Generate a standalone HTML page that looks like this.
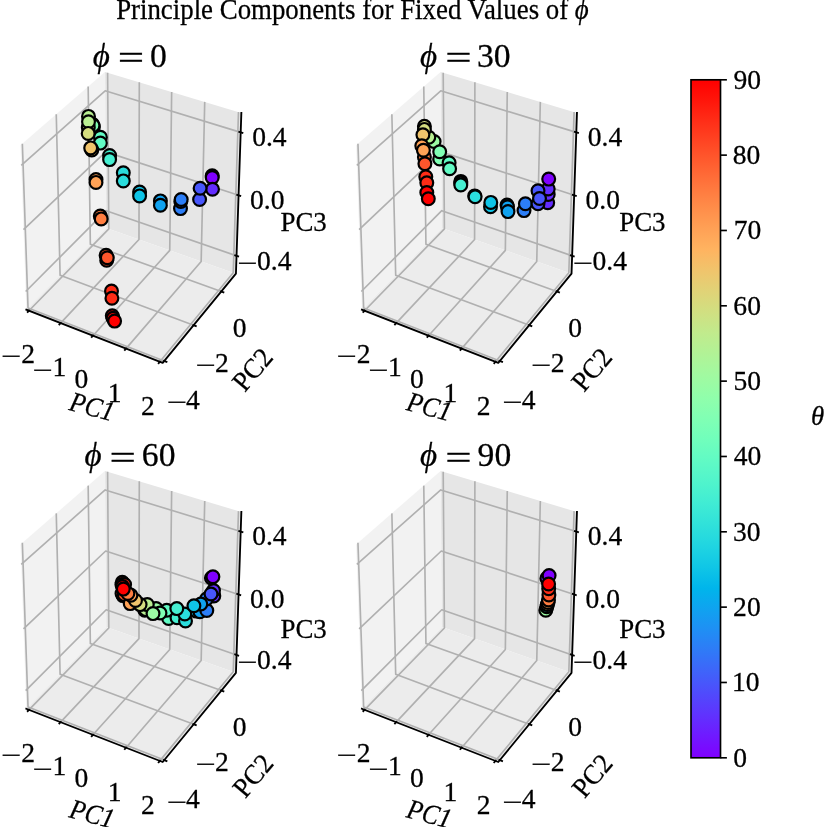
<!DOCTYPE html>
<html><head><meta charset="utf-8"><title>Principle Components</title>
<style>html,body{margin:0;padding:0;background:#fff}svg{display:block}text{font-family:"Liberation Serif",serif;fill:#000;stroke:#000;stroke-width:0.28px}</style></head><body>
<svg width="825" height="827" viewBox="0 0 825 827">
<rect width="825" height="827" fill="#fff"/>
<text transform="translate(116.90,18.50) scale(0.9135,1.0000)" x="-0.85" font-size="29.40">Principle Components for Fixed Values of <tspan font-style="italic">ϕ</tspan></text>
<g>
<polygon points="26.32,309.71 106.33,228.01 104.99,71.91 20.53,145.31" fill="#f2f2f2"/>
<polygon points="106.33,228.01 235.93,273.69 241.35,112.88 104.99,71.91" fill="#e6e6e6"/>
<polygon points="26.32,309.71 162.68,362.90 235.93,273.69 106.33,228.01" fill="#ececec"/>
<g fill="none" stroke="#b0b0b0" stroke-width="1.65" stroke-linejoin="round">
<polyline points="28.93,310.73 108.81,228.89 107.60,72.69"/>
<polyline points="60.59,323.08 138.98,239.52 139.29,82.21"/>
<polyline points="92.94,335.70 169.75,250.37 171.65,91.94"/>
<polyline points="126.01,348.60 201.16,261.44 204.72,101.87"/>
<polyline points="159.83,361.79 233.22,272.73 238.50,112.02"/>
<polyline points="164.26,360.98 28.04,307.95 22.35,143.73"/>
<polyline points="193.65,325.17 60.09,275.23 56.26,114.26"/>
<polyline points="221.33,291.47 90.34,244.34 88.17,86.53"/>
<polyline points="236.53,255.86 106.18,210.68 25.68,291.51"/>
<polyline points="238.57,195.34 105.68,151.88 23.50,229.69"/>
<polyline points="240.69,132.39 105.16,90.82 21.23,165.29"/>
</g>
<g fill="none" stroke="#000" stroke-width="1.85" stroke-linecap="butt" stroke-linejoin="round">
<polyline stroke-linecap="square" points="26.32,309.71 162.68,362.90 235.93,273.69 241.35,112.88"/>
<polyline points="27.07,312.63 29.62,310.02"/>
<polyline points="58.76,325.03 61.26,322.36"/>
<polyline points="91.15,337.69 93.60,334.96"/>
<polyline points="124.26,350.63 126.66,347.85"/>
<polyline points="158.11,363.87 160.46,361.02"/>
<polyline points="167.34,362.18 163.12,360.53"/>
<polyline points="196.67,326.30 192.54,324.76"/>
<polyline points="224.29,292.53 220.24,291.07"/>
<polyline points="239.03,256.73 234.35,255.11"/>
<polyline points="241.12,196.18 236.35,194.62"/>
<polyline points="243.30,133.19 238.42,131.70"/>
</g>
<text transform="translate(2.90,364.32) scale(1.2741,0.8500)" x="-1.39" font-size="28.00">−</text>
<text transform="translate(22.40,362.80) scale(0.9850,1.0000)" x="-1.23" font-size="28.00">2</text>
<text transform="translate(34.60,377.52) scale(1.2741,0.8500)" x="-1.39" font-size="28.00">−</text>
<text transform="translate(54.80,376.00) scale(0.9850,1.0000)" x="-2.46" font-size="28.00">1</text>
<text transform="translate(75.50,388.30) scale(0.9850,1.0000)" x="-1.07" font-size="28.00">0</text>
<text transform="translate(110.20,401.60) scale(0.9850,1.0000)" x="-2.46" font-size="28.00">1</text>
<text transform="translate(142.30,414.70) scale(0.9850,1.0000)" x="-1.23" font-size="28.00">2</text>
<text transform="translate(233.80,336.90) scale(0.9850,1.0000)" x="-1.07" font-size="28.00">0</text>
<text transform="translate(197.50,373.32) scale(1.2741,0.8500)" x="-1.39" font-size="28.00">−</text>
<text transform="translate(216.30,371.80) scale(0.9850,1.0000)" x="-1.23" font-size="28.00">2</text>
<text transform="translate(168.70,410.42) scale(1.2741,0.8500)" x="-1.39" font-size="28.00">−</text>
<text transform="translate(186.60,408.90) scale(0.9850,1.0000)" x="-0.55" font-size="28.00">4</text>
<text transform="translate(253.20,146.00) scale(0.9850,1.0000)" x="-1.07" font-size="28.00">0.4</text>
<text transform="translate(251.00,208.70) scale(0.9850,1.0000)" x="-1.07" font-size="28.00">0.0</text>
<text transform="translate(239.20,271.12) scale(1.2741,0.8500)" x="-1.39" font-size="28.00">−</text>
<text transform="translate(258.00,269.60) scale(0.9850,1.0000)" x="-1.07" font-size="28.00">0.4</text>
<text transform="translate(89.70,415.50) rotate(15) scale(0.9000,1.0000)" x="0.00" font-size="28.00" font-style="italic" text-anchor="middle">PC1</text>
<text transform="translate(259.50,375.50) rotate(-50) scale(0.9500,1.0000)" x="0.00" font-size="28.00" text-anchor="middle">PC2</text>
<text transform="translate(281.20,230.60) scale(0.9600,1.0000)" x="-0.81" font-size="28.00">PC3</text>
<g stroke="#000" stroke-width="2.2">
<circle cx="212.20" cy="175.70" r="6.4" fill="#8000ff"/>
<circle cx="212.20" cy="177.60" r="6.4" fill="#8000ff"/>
<circle cx="212.50" cy="189.30" r="6.4" fill="#642cfe"/>
<circle cx="199.60" cy="199.50" r="6.4" fill="#4856fb"/>
<circle cx="200.10" cy="188.30" r="6.4" fill="#4856fb"/>
<circle cx="180.50" cy="208.60" r="6.4" fill="#2c7ef7"/>
<circle cx="180.80" cy="201.40" r="6.4" fill="#2c7ef7"/>
<circle cx="181.20" cy="199.50" r="6.4" fill="#2c7ef7"/>
<circle cx="160.40" cy="200.90" r="6.4" fill="#10a2f0"/>
<circle cx="160.40" cy="205.30" r="6.4" fill="#10a2f0"/>
<circle cx="139.60" cy="192.00" r="6.4" fill="#0fc4e7"/>
<circle cx="139.60" cy="195.90" r="6.4" fill="#0fc4e7"/>
<circle cx="123.30" cy="172.70" r="6.4" fill="#2adddd"/>
<circle cx="123.30" cy="180.90" r="6.4" fill="#2adddd"/>
<circle cx="109.60" cy="155.60" r="6.4" fill="#46efd1"/>
<circle cx="109.60" cy="159.60" r="6.4" fill="#46efd1"/>
<circle cx="93.40" cy="126.90" r="6.4" fill="#80ffb4"/>
<circle cx="92.50" cy="124.20" r="6.4" fill="#9cfba4"/>
<circle cx="93.00" cy="125.60" r="6.4" fill="#80ffb4"/>
<circle cx="88.30" cy="127.60" r="6.4" fill="#d4dd80"/>
<circle cx="100.40" cy="137.30" r="6.4" fill="#62fbc4"/>
<circle cx="100.40" cy="143.10" r="6.4" fill="#62fbc4"/>
<circle cx="88.50" cy="116.40" r="6.4" fill="#b9ef92"/>
<circle cx="88.50" cy="121.80" r="6.4" fill="#b9ef92"/>
<circle cx="88.20" cy="133.40" r="6.4" fill="#d4dd80"/>
<circle cx="91.80" cy="149.90" r="6.4" fill="#f0c46c"/>
<circle cx="90.70" cy="147.90" r="6.4" fill="#f0c46c"/>
<circle cx="96.00" cy="179.50" r="6.4" fill="#ffa256"/>
<circle cx="96.00" cy="182.40" r="6.4" fill="#ffa256"/>
<circle cx="100.30" cy="216.00" r="6.4" fill="#ff7e41"/>
<circle cx="101.20" cy="218.90" r="6.4" fill="#ff7e41"/>
<circle cx="106.10" cy="255.30" r="6.4" fill="#ff562c"/>
<circle cx="106.70" cy="260.30" r="6.4" fill="#ff562c"/>
<circle cx="107.30" cy="257.70" r="6.4" fill="#ff562c"/>
<circle cx="111.50" cy="291.00" r="6.4" fill="#ff2c16"/>
<circle cx="111.90" cy="298.30" r="6.4" fill="#ff2c16"/>
<circle cx="112.30" cy="315.80" r="6.4" fill="#ff0000"/>
<circle cx="113.10" cy="318.20" r="6.4" fill="#ff0000"/>
<circle cx="114.60" cy="321.10" r="6.4" fill="#ff0000"/>
</g>
<text transform="translate(93.50,66.60)" x="-0.76" font-size="33.00" font-style="italic">ϕ</text>
<text transform="translate(120.10,69.49) scale(1.3779,1.0000)" x="-1.69" font-size="34.00">=</text>
<text transform="translate(151.20,66.60) scale(0.9900,1.0000)" x="-1.29" font-size="34.00">0</text>
</g>
<g>
<polygon points="361.92,309.71 441.93,228.01 440.59,71.91 356.13,145.31" fill="#f2f2f2"/>
<polygon points="441.93,228.01 571.53,273.69 576.95,112.88 440.59,71.91" fill="#e6e6e6"/>
<polygon points="361.92,309.71 498.28,362.90 571.53,273.69 441.93,228.01" fill="#ececec"/>
<g fill="none" stroke="#b0b0b0" stroke-width="1.65" stroke-linejoin="round">
<polyline points="364.53,310.73 444.41,228.89 443.20,72.69"/>
<polyline points="396.19,323.08 474.58,239.52 474.89,82.21"/>
<polyline points="428.54,335.70 505.35,250.37 507.25,91.94"/>
<polyline points="461.61,348.60 536.76,261.44 540.32,101.87"/>
<polyline points="495.43,361.79 568.82,272.73 574.10,112.02"/>
<polyline points="499.86,360.98 363.64,307.95 357.95,143.73"/>
<polyline points="529.25,325.17 395.69,275.23 391.86,114.26"/>
<polyline points="556.93,291.47 425.94,244.34 423.77,86.53"/>
<polyline points="572.13,255.86 441.78,210.68 361.28,291.51"/>
<polyline points="574.17,195.34 441.28,151.88 359.10,229.69"/>
<polyline points="576.29,132.39 440.76,90.82 356.83,165.29"/>
</g>
<g fill="none" stroke="#000" stroke-width="1.85" stroke-linecap="butt" stroke-linejoin="round">
<polyline stroke-linecap="square" points="361.92,309.71 498.28,362.90 571.53,273.69 576.95,112.88"/>
<polyline points="362.67,312.63 365.22,310.02"/>
<polyline points="394.36,325.03 396.86,322.36"/>
<polyline points="426.75,337.69 429.20,334.96"/>
<polyline points="459.86,350.63 462.26,347.85"/>
<polyline points="493.71,363.87 496.06,361.02"/>
<polyline points="502.94,362.18 498.72,360.53"/>
<polyline points="532.27,326.30 528.14,324.76"/>
<polyline points="559.89,292.53 555.84,291.07"/>
<polyline points="574.63,256.73 569.95,255.11"/>
<polyline points="576.72,196.18 571.95,194.62"/>
<polyline points="578.90,133.19 574.02,131.70"/>
</g>
<text transform="translate(338.50,364.32) scale(1.2741,0.8500)" x="-1.39" font-size="28.00">−</text>
<text transform="translate(358.00,362.80) scale(0.9850,1.0000)" x="-1.23" font-size="28.00">2</text>
<text transform="translate(370.20,377.52) scale(1.2741,0.8500)" x="-1.39" font-size="28.00">−</text>
<text transform="translate(390.40,376.00) scale(0.9850,1.0000)" x="-2.46" font-size="28.00">1</text>
<text transform="translate(411.10,388.30) scale(0.9850,1.0000)" x="-1.07" font-size="28.00">0</text>
<text transform="translate(445.80,401.60) scale(0.9850,1.0000)" x="-2.46" font-size="28.00">1</text>
<text transform="translate(477.90,414.70) scale(0.9850,1.0000)" x="-1.23" font-size="28.00">2</text>
<text transform="translate(569.40,336.90) scale(0.9850,1.0000)" x="-1.07" font-size="28.00">0</text>
<text transform="translate(533.10,373.32) scale(1.2741,0.8500)" x="-1.39" font-size="28.00">−</text>
<text transform="translate(551.90,371.80) scale(0.9850,1.0000)" x="-1.23" font-size="28.00">2</text>
<text transform="translate(504.30,410.42) scale(1.2741,0.8500)" x="-1.39" font-size="28.00">−</text>
<text transform="translate(522.20,408.90) scale(0.9850,1.0000)" x="-0.55" font-size="28.00">4</text>
<text transform="translate(588.80,146.00) scale(0.9850,1.0000)" x="-1.07" font-size="28.00">0.4</text>
<text transform="translate(586.60,208.70) scale(0.9850,1.0000)" x="-1.07" font-size="28.00">0.0</text>
<text transform="translate(574.80,271.12) scale(1.2741,0.8500)" x="-1.39" font-size="28.00">−</text>
<text transform="translate(593.60,269.60) scale(0.9850,1.0000)" x="-1.07" font-size="28.00">0.4</text>
<text transform="translate(427.00,415.50) rotate(15) scale(0.9000,1.0000)" x="0.00" font-size="28.00" font-style="italic" text-anchor="middle">PC1</text>
<text transform="translate(598.80,375.50) rotate(-50) scale(0.9500,1.0000)" x="0.00" font-size="28.00" text-anchor="middle">PC2</text>
<text transform="translate(620.00,230.60) scale(0.9600,1.0000)" x="-0.81" font-size="28.00">PC3</text>
<g stroke="#000" stroke-width="2.2">
<circle cx="434.10" cy="141.50" r="6.4" fill="#9cfba4"/>
<circle cx="428.80" cy="137.20" r="6.4" fill="#b9ef92"/>
<circle cx="424.40" cy="126.30" r="6.4" fill="#d4dd80"/>
<circle cx="424.40" cy="129.40" r="6.4" fill="#d4dd80"/>
<circle cx="422.90" cy="134.70" r="6.4" fill="#f0c46c"/>
<circle cx="439.70" cy="159.00" r="6.4" fill="#80ffb4"/>
<circle cx="439.70" cy="151.70" r="6.4" fill="#80ffb4"/>
<circle cx="449.10" cy="162.80" r="6.4" fill="#62fbc4"/>
<circle cx="449.60" cy="168.70" r="6.4" fill="#62fbc4"/>
<circle cx="460.80" cy="181.40" r="6.4" fill="#46efd1"/>
<circle cx="460.80" cy="183.00" r="6.4" fill="#46efd1"/>
<circle cx="460.80" cy="184.90" r="6.4" fill="#46efd1"/>
<circle cx="474.70" cy="195.90" r="6.4" fill="#2adddd"/>
<circle cx="475.10" cy="196.80" r="6.4" fill="#2adddd"/>
<circle cx="490.50" cy="206.70" r="6.4" fill="#0fc4e7"/>
<circle cx="490.80" cy="202.40" r="6.4" fill="#0fc4e7"/>
<circle cx="507.00" cy="205.00" r="6.4" fill="#10a2f0"/>
<circle cx="507.50" cy="206.70" r="6.4" fill="#10a2f0"/>
<circle cx="508.00" cy="211.60" r="6.4" fill="#10a2f0"/>
<circle cx="524.00" cy="210.60" r="6.4" fill="#2c7ef7"/>
<circle cx="525.40" cy="203.80" r="6.4" fill="#2c7ef7"/>
<circle cx="547.70" cy="202.80" r="6.4" fill="#642cfe"/>
<circle cx="548.20" cy="194.50" r="6.4" fill="#642cfe"/>
<circle cx="548.20" cy="189.00" r="6.4" fill="#642cfe"/>
<circle cx="548.70" cy="179.10" r="6.4" fill="#8000ff"/>
<circle cx="538.00" cy="190.70" r="6.4" fill="#4856fb"/>
<circle cx="538.00" cy="203.80" r="6.4" fill="#4856fb"/>
<circle cx="539.50" cy="198.50" r="6.4" fill="#4856fb"/>
<circle cx="424.40" cy="157.00" r="6.4" fill="#ff7e41"/>
<circle cx="421.80" cy="145.80" r="6.4" fill="#ffa256"/>
<circle cx="423.40" cy="150.20" r="6.4" fill="#ffa256"/>
<circle cx="424.90" cy="163.80" r="6.4" fill="#ff562c"/>
<circle cx="425.80" cy="176.70" r="6.4" fill="#ff2c16"/>
<circle cx="426.80" cy="182.70" r="6.4" fill="#ff2c16"/>
<circle cx="426.80" cy="192.50" r="6.4" fill="#ff0000"/>
<circle cx="428.30" cy="198.80" r="6.4" fill="#ff0000"/>
</g>
<text transform="translate(420.85,66.60)" x="-0.76" font-size="33.00" font-style="italic">ϕ</text>
<text transform="translate(447.45,69.49) scale(1.3779,1.0000)" x="-1.69" font-size="34.00">=</text>
<text transform="translate(478.55,66.60) scale(0.9900,1.0000)" x="-1.63" font-size="34.00">30</text>
</g>
<g>
<polygon points="26.32,708.81 106.33,627.11 104.99,471.01 20.53,544.41" fill="#f2f2f2"/>
<polygon points="106.33,627.11 235.93,672.79 241.35,511.98 104.99,471.01" fill="#e6e6e6"/>
<polygon points="26.32,708.81 162.68,762.00 235.93,672.79 106.33,627.11" fill="#ececec"/>
<g fill="none" stroke="#b0b0b0" stroke-width="1.65" stroke-linejoin="round">
<polyline points="28.93,709.83 108.81,627.99 107.60,471.79"/>
<polyline points="60.59,722.18 138.98,638.62 139.29,481.31"/>
<polyline points="92.94,734.80 169.75,649.47 171.65,491.04"/>
<polyline points="126.01,747.70 201.16,660.54 204.72,500.97"/>
<polyline points="159.83,760.89 233.22,671.83 238.50,511.12"/>
<polyline points="164.26,760.08 28.04,707.05 22.35,542.83"/>
<polyline points="193.65,724.27 60.09,674.33 56.26,513.36"/>
<polyline points="221.33,690.57 90.34,643.44 88.17,485.63"/>
<polyline points="236.53,654.96 106.18,609.78 25.68,690.61"/>
<polyline points="238.57,594.44 105.68,550.98 23.50,628.79"/>
<polyline points="240.69,531.49 105.16,489.92 21.23,564.39"/>
</g>
<g fill="none" stroke="#000" stroke-width="1.85" stroke-linecap="butt" stroke-linejoin="round">
<polyline stroke-linecap="square" points="26.32,708.81 162.68,762.00 235.93,672.79 241.35,511.98"/>
<polyline points="27.07,711.73 29.62,709.12"/>
<polyline points="58.76,724.13 61.26,721.46"/>
<polyline points="91.15,736.79 93.60,734.06"/>
<polyline points="124.26,749.73 126.66,746.95"/>
<polyline points="158.11,762.97 160.46,760.12"/>
<polyline points="167.34,761.28 163.12,759.63"/>
<polyline points="196.67,725.40 192.54,723.86"/>
<polyline points="224.29,691.63 220.24,690.17"/>
<polyline points="239.03,655.83 234.35,654.21"/>
<polyline points="241.12,595.28 236.35,593.72"/>
<polyline points="243.30,532.29 238.42,530.80"/>
</g>
<text transform="translate(2.90,763.42) scale(1.2741,0.8500)" x="-1.39" font-size="28.00">−</text>
<text transform="translate(22.40,761.90) scale(0.9850,1.0000)" x="-1.23" font-size="28.00">2</text>
<text transform="translate(34.60,776.62) scale(1.2741,0.8500)" x="-1.39" font-size="28.00">−</text>
<text transform="translate(54.80,775.10) scale(0.9850,1.0000)" x="-2.46" font-size="28.00">1</text>
<text transform="translate(75.50,787.40) scale(0.9850,1.0000)" x="-1.07" font-size="28.00">0</text>
<text transform="translate(110.20,800.70) scale(0.9850,1.0000)" x="-2.46" font-size="28.00">1</text>
<text transform="translate(142.30,813.80) scale(0.9850,1.0000)" x="-1.23" font-size="28.00">2</text>
<text transform="translate(233.80,736.00) scale(0.9850,1.0000)" x="-1.07" font-size="28.00">0</text>
<text transform="translate(197.50,772.42) scale(1.2741,0.8500)" x="-1.39" font-size="28.00">−</text>
<text transform="translate(216.30,770.90) scale(0.9850,1.0000)" x="-1.23" font-size="28.00">2</text>
<text transform="translate(168.70,809.52) scale(1.2741,0.8500)" x="-1.39" font-size="28.00">−</text>
<text transform="translate(186.60,808.00) scale(0.9850,1.0000)" x="-0.55" font-size="28.00">4</text>
<text transform="translate(253.20,545.10) scale(0.9850,1.0000)" x="-1.07" font-size="28.00">0.4</text>
<text transform="translate(251.00,607.80) scale(0.9850,1.0000)" x="-1.07" font-size="28.00">0.0</text>
<text transform="translate(239.20,670.22) scale(1.2741,0.8500)" x="-1.39" font-size="28.00">−</text>
<text transform="translate(258.00,668.70) scale(0.9850,1.0000)" x="-1.07" font-size="28.00">0.4</text>
<text transform="translate(89.70,822.70) rotate(15) scale(0.9000,1.0000)" x="0.00" font-size="28.00" font-style="italic" text-anchor="middle">PC1</text>
<text transform="translate(260.00,781.60) rotate(-50) scale(0.9500,1.0000)" x="0.00" font-size="28.00" text-anchor="middle">PC2</text>
<text transform="translate(281.20,637.70) scale(0.9600,1.0000)" x="-0.81" font-size="28.00">PC3</text>
<g stroke="#000" stroke-width="2.2">
<circle cx="123.00" cy="595.60" r="6.4" fill="#ff7e41"/>
<circle cx="122.00" cy="593.60" r="6.4" fill="#ff562c"/>
<circle cx="124.20" cy="594.60" r="6.4" fill="#ff562c"/>
<circle cx="130.20" cy="603.60" r="6.4" fill="#ffa256"/>
<circle cx="144.80" cy="610.30" r="6.4" fill="#d4dd80"/>
<circle cx="145.80" cy="609.60" r="6.4" fill="#b9ef92"/>
<circle cx="168.60" cy="618.50" r="6.4" fill="#62fbc4"/>
<circle cx="177.00" cy="617.80" r="6.4" fill="#46efd1"/>
<circle cx="185.50" cy="621.00" r="6.4" fill="#2adddd"/>
<circle cx="196.30" cy="611.10" r="6.4" fill="#0fc4e7"/>
<circle cx="199.90" cy="611.80" r="6.4" fill="#10a2f0"/>
<circle cx="206.80" cy="610.50" r="6.4" fill="#2c7ef7"/>
<circle cx="213.80" cy="595.90" r="6.4" fill="#642cfe"/>
<circle cx="156.10" cy="608.50" r="6.4" fill="#9cfba4"/>
<circle cx="147.30" cy="604.60" r="6.4" fill="#b9ef92"/>
<circle cx="140.10" cy="604.60" r="6.4" fill="#d4dd80"/>
<circle cx="135.50" cy="600.50" r="6.4" fill="#f0c46c"/>
<circle cx="130.90" cy="595.30" r="6.4" fill="#ffa256"/>
<circle cx="127.90" cy="593.50" r="6.4" fill="#ff7e41"/>
<circle cx="122.30" cy="582.30" r="6.4" fill="#ff2c16"/>
<circle cx="121.90" cy="584.50" r="6.4" fill="#ff2c16"/>
<circle cx="124.60" cy="584.50" r="6.4" fill="#ff2c16"/>
<circle cx="122.50" cy="586.50" r="6.4" fill="#ff0000"/>
<circle cx="123.30" cy="589.10" r="6.4" fill="#ff0000"/>
<circle cx="184.80" cy="614.00" r="6.4" fill="#2adddd"/>
<circle cx="166.70" cy="610.30" r="6.4" fill="#62fbc4"/>
<circle cx="176.80" cy="608.60" r="6.4" fill="#46efd1"/>
<circle cx="160.00" cy="613.00" r="6.4" fill="#80ffb4"/>
<circle cx="153.00" cy="613.60" r="6.4" fill="#9cfba4"/>
<circle cx="206.50" cy="599.00" r="6.4" fill="#2c7ef7"/>
<circle cx="200.80" cy="604.00" r="6.4" fill="#10a2f0"/>
<circle cx="193.90" cy="605.70" r="6.4" fill="#0fc4e7"/>
<circle cx="213.50" cy="590.50" r="6.4" fill="#642cfe"/>
<circle cx="211.40" cy="578.00" r="6.4" fill="#8000ff"/>
<circle cx="212.90" cy="576.80" r="6.4" fill="#8000ff"/>
<circle cx="211.00" cy="594.00" r="6.4" fill="#4856fb"/>
</g>
<text transform="translate(85.25,465.70)" x="-0.76" font-size="33.00" font-style="italic">ϕ</text>
<text transform="translate(111.85,468.59) scale(1.3779,1.0000)" x="-1.69" font-size="34.00">=</text>
<text transform="translate(142.95,465.70) scale(0.9900,1.0000)" x="-1.16" font-size="34.00">60</text>
</g>
<g>
<polygon points="361.92,708.81 441.93,627.11 440.59,471.01 356.13,544.41" fill="#f2f2f2"/>
<polygon points="441.93,627.11 571.53,672.79 576.95,511.98 440.59,471.01" fill="#e6e6e6"/>
<polygon points="361.92,708.81 498.28,762.00 571.53,672.79 441.93,627.11" fill="#ececec"/>
<g fill="none" stroke="#b0b0b0" stroke-width="1.65" stroke-linejoin="round">
<polyline points="364.53,709.83 444.41,627.99 443.20,471.79"/>
<polyline points="396.19,722.18 474.58,638.62 474.89,481.31"/>
<polyline points="428.54,734.80 505.35,649.47 507.25,491.04"/>
<polyline points="461.61,747.70 536.76,660.54 540.32,500.97"/>
<polyline points="495.43,760.89 568.82,671.83 574.10,511.12"/>
<polyline points="499.86,760.08 363.64,707.05 357.95,542.83"/>
<polyline points="529.25,724.27 395.69,674.33 391.86,513.36"/>
<polyline points="556.93,690.57 425.94,643.44 423.77,485.63"/>
<polyline points="572.13,654.96 441.78,609.78 361.28,690.61"/>
<polyline points="574.17,594.44 441.28,550.98 359.10,628.79"/>
<polyline points="576.29,531.49 440.76,489.92 356.83,564.39"/>
</g>
<g fill="none" stroke="#000" stroke-width="1.85" stroke-linecap="butt" stroke-linejoin="round">
<polyline stroke-linecap="square" points="361.92,708.81 498.28,762.00 571.53,672.79 576.95,511.98"/>
<polyline points="362.67,711.73 365.22,709.12"/>
<polyline points="394.36,724.13 396.86,721.46"/>
<polyline points="426.75,736.79 429.20,734.06"/>
<polyline points="459.86,749.73 462.26,746.95"/>
<polyline points="493.71,762.97 496.06,760.12"/>
<polyline points="502.94,761.28 498.72,759.63"/>
<polyline points="532.27,725.40 528.14,723.86"/>
<polyline points="559.89,691.63 555.84,690.17"/>
<polyline points="574.63,655.83 569.95,654.21"/>
<polyline points="576.72,595.28 571.95,593.72"/>
<polyline points="578.90,532.29 574.02,530.80"/>
</g>
<text transform="translate(338.50,763.42) scale(1.2741,0.8500)" x="-1.39" font-size="28.00">−</text>
<text transform="translate(358.00,761.90) scale(0.9850,1.0000)" x="-1.23" font-size="28.00">2</text>
<text transform="translate(370.20,776.62) scale(1.2741,0.8500)" x="-1.39" font-size="28.00">−</text>
<text transform="translate(390.40,775.10) scale(0.9850,1.0000)" x="-2.46" font-size="28.00">1</text>
<text transform="translate(411.10,787.40) scale(0.9850,1.0000)" x="-1.07" font-size="28.00">0</text>
<text transform="translate(445.80,800.70) scale(0.9850,1.0000)" x="-2.46" font-size="28.00">1</text>
<text transform="translate(477.90,813.80) scale(0.9850,1.0000)" x="-1.23" font-size="28.00">2</text>
<text transform="translate(569.40,736.00) scale(0.9850,1.0000)" x="-1.07" font-size="28.00">0</text>
<text transform="translate(533.10,772.42) scale(1.2741,0.8500)" x="-1.39" font-size="28.00">−</text>
<text transform="translate(551.90,770.90) scale(0.9850,1.0000)" x="-1.23" font-size="28.00">2</text>
<text transform="translate(504.30,809.52) scale(1.2741,0.8500)" x="-1.39" font-size="28.00">−</text>
<text transform="translate(522.20,808.00) scale(0.9850,1.0000)" x="-0.55" font-size="28.00">4</text>
<text transform="translate(588.80,545.10) scale(0.9850,1.0000)" x="-1.07" font-size="28.00">0.4</text>
<text transform="translate(586.60,607.80) scale(0.9850,1.0000)" x="-1.07" font-size="28.00">0.0</text>
<text transform="translate(574.80,670.22) scale(1.2741,0.8500)" x="-1.39" font-size="28.00">−</text>
<text transform="translate(593.60,668.70) scale(0.9850,1.0000)" x="-1.07" font-size="28.00">0.4</text>
<text transform="translate(427.00,822.70) rotate(15) scale(0.9000,1.0000)" x="0.00" font-size="28.00" font-style="italic" text-anchor="middle">PC1</text>
<text transform="translate(599.30,781.60) rotate(-50) scale(0.9500,1.0000)" x="0.00" font-size="28.00" text-anchor="middle">PC2</text>
<text transform="translate(620.00,637.70) scale(0.9600,1.0000)" x="-0.81" font-size="28.00">PC3</text>
<g stroke="#000" stroke-width="2.2">
<circle cx="545.80" cy="610.20" r="6.4" fill="#9cfba4"/>
<circle cx="546.80" cy="606.70" r="6.4" fill="#2adddd"/>
<circle cx="547.40" cy="604.60" r="6.4" fill="#f0c46c"/>
<circle cx="548.00" cy="602.40" r="6.4" fill="#ffa256"/>
<circle cx="548.50" cy="600.00" r="6.4" fill="#ff7e41"/>
<circle cx="548.90" cy="594.90" r="6.4" fill="#ff562c"/>
<circle cx="548.70" cy="588.70" r="6.4" fill="#ff2c16"/>
<circle cx="546.90" cy="578.40" r="6.4" fill="#642cfe"/>
<circle cx="549.10" cy="575.60" r="6.4" fill="#8000ff"/>
<circle cx="548.60" cy="584.00" r="6.4" fill="#ff0000"/>
</g>
<text transform="translate(420.85,465.70)" x="-0.76" font-size="33.00" font-style="italic">ϕ</text>
<text transform="translate(447.45,468.59) scale(1.3779,1.0000)" x="-1.69" font-size="34.00">=</text>
<text transform="translate(478.55,465.70) scale(0.9900,1.0000)" x="-1.01" font-size="34.00">90</text>
</g>
<defs><linearGradient id="cb" x1="0" y1="0" x2="0" y2="1"><stop offset="0.0000" stop-color="#ff0000"/><stop offset="0.0312" stop-color="#ff160b"/><stop offset="0.0625" stop-color="#ff2f18"/><stop offset="0.0938" stop-color="#ff4724"/><stop offset="0.1250" stop-color="#ff5f30"/><stop offset="0.1562" stop-color="#ff763d"/><stop offset="0.1875" stop-color="#ff8c49"/><stop offset="0.2188" stop-color="#ffa055"/><stop offset="0.2500" stop-color="#ffb360"/><stop offset="0.2812" stop-color="#f0c46c"/><stop offset="0.3125" stop-color="#e0d377"/><stop offset="0.3438" stop-color="#d0e082"/><stop offset="0.3750" stop-color="#c0eb8d"/><stop offset="0.4062" stop-color="#b0f397"/><stop offset="0.4375" stop-color="#a0faa1"/><stop offset="0.4688" stop-color="#90feab"/><stop offset="0.5000" stop-color="#80ffb4"/><stop offset="0.5312" stop-color="#70febc"/><stop offset="0.5625" stop-color="#60fac5"/><stop offset="0.5938" stop-color="#50f4cc"/><stop offset="0.6250" stop-color="#40ecd4"/><stop offset="0.6562" stop-color="#30e1da"/><stop offset="0.6875" stop-color="#20d5e1"/><stop offset="0.7188" stop-color="#10c6e6"/><stop offset="0.7500" stop-color="#00b5eb"/><stop offset="0.7812" stop-color="#10a2f0"/><stop offset="0.8125" stop-color="#208ef4"/><stop offset="0.8438" stop-color="#3079f7"/><stop offset="0.8750" stop-color="#4062fa"/><stop offset="0.9062" stop-color="#504afc"/><stop offset="0.9375" stop-color="#6032fe"/><stop offset="0.9688" stop-color="#7019ff"/><stop offset="1.0000" stop-color="#8000ff"/></linearGradient></defs>
<rect x="691.00" y="79.80" width="29.50" height="678.00" fill="url(#cb)" stroke="#000" stroke-width="1.65"/>
<line x1="720.50" y1="757.80" x2="726.90" y2="757.80" stroke="#000" stroke-width="1.65"/>
<text transform="translate(734.30,766.70) scale(0.9850,1.0000)" x="-1.07" font-size="28.00">0</text>
<line x1="720.50" y1="682.47" x2="726.90" y2="682.47" stroke="#000" stroke-width="1.65"/>
<text transform="translate(734.30,691.37) scale(0.9850,1.0000)" x="-2.46" font-size="28.00">10</text>
<line x1="720.50" y1="607.13" x2="726.90" y2="607.13" stroke="#000" stroke-width="1.65"/>
<text transform="translate(734.30,616.03) scale(0.9850,1.0000)" x="-1.23" font-size="28.00">20</text>
<line x1="720.50" y1="531.80" x2="726.90" y2="531.80" stroke="#000" stroke-width="1.65"/>
<text transform="translate(734.30,540.70) scale(0.9850,1.0000)" x="-1.34" font-size="28.00">30</text>
<line x1="720.50" y1="456.47" x2="726.90" y2="456.47" stroke="#000" stroke-width="1.65"/>
<text transform="translate(734.30,465.37) scale(0.9850,1.0000)" x="-0.55" font-size="28.00">40</text>
<line x1="720.50" y1="381.13" x2="726.90" y2="381.13" stroke="#000" stroke-width="1.65"/>
<text transform="translate(734.30,390.03) scale(0.9850,1.0000)" x="-0.90" font-size="28.00">50</text>
<line x1="720.50" y1="305.80" x2="726.90" y2="305.80" stroke="#000" stroke-width="1.65"/>
<text transform="translate(734.30,314.70) scale(0.9850,1.0000)" x="-0.96" font-size="28.00">60</text>
<line x1="720.50" y1="230.47" x2="726.90" y2="230.47" stroke="#000" stroke-width="1.65"/>
<text transform="translate(734.30,239.37) scale(0.9850,1.0000)" x="-0.55" font-size="28.00">70</text>
<line x1="720.50" y1="155.13" x2="726.90" y2="155.13" stroke="#000" stroke-width="1.65"/>
<text transform="translate(734.30,164.03) scale(0.9850,1.0000)" x="-1.57" font-size="28.00">80</text>
<line x1="720.50" y1="79.80" x2="726.90" y2="79.80" stroke="#000" stroke-width="1.65"/>
<text transform="translate(734.30,88.70) scale(0.9850,1.0000)" x="-0.83" font-size="28.00">90</text>
<text transform="translate(812.30,424.60)" x="-1.31" font-size="26.80" font-style="italic">θ</text>
</svg></body></html>
